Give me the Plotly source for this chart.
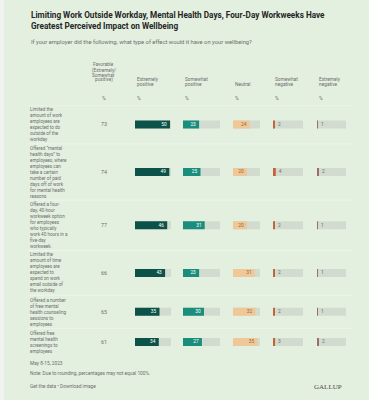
import plotly.graph_objects as go

# ---------------- data ----------------
row_labels = [
    "Limited the<br>amount of work<br>employees are<br>expected to do<br>outside of the<br>workday",
    "Offered “mental<br>health days” to<br>employees, where<br>employees can<br>take a certain<br>number of paid<br>days off of work<br>for mental health<br>reasons",
    "Offered a four-<br>day, 40-hour<br>workweek option<br>for employees<br>who typically<br>work 40 hours in a<br>five-day<br>workweek.",
    "Limited the<br>amount of time<br>employees are<br>expected to<br>spend on work<br>email outside of<br>the workday",
    "Offered a number<br>of free mental<br>health counseling<br>sessions to<br>employees",
    "Offered free<br>mental health<br>screenings to<br>employees",
]
favorable = [73, 74, 77, 66, 65, 61]
extremely_positive = [50, 49, 46, 43, 35, 34]
somewhat_positive = [23, 25, 31, 23, 30, 27]
neutral = [24, 20, 20, 31, 32, 35]
somewhat_negative = [2, 4, 2, 2, 2, 3]
extremely_negative = [1, 2, 1, 1, 1, 2]

column_headers = [
    ["Extremely", "positive"],
    ["Somewhat", "positive"],
    ["Neutral"],
    ["Somewhat", "negative"],
    ["Extremely", "negative"],
]
favorable_header = ["Favorable", "(Extremely/", "Somewhat", "positive)"]

title_text = ("<b>Limiting Work Outside Workday, Mental Health Days, Four-Day Workweeks Have"
              "<br>Greatest Perceived Impact on Wellbeing</b>")
subtitle_text = "If your employer did the following, what type of effect would it have on your wellbeing?"
date_text = "May 8-15, 2023"
note_text = "Note: Due to rounding, percentages may not equal 100%."
links_text = "Get the data • Download image"

# ---------------- styling ----------------
W, H = 369, 400
BG = "#e3efdf"
TRACK = "#d2dbcf"
TXT = "#6e6e6e"
FONT = "Roboto"
series = [extremely_positive, somewhat_positive, neutral, somewhat_negative, extremely_negative]
colors = ["#0d5249", "#1b8d7d", "#f0c898", "#c4633a", "#9b6e66"]
text_colors = ["white", "white", "#8a6a3e", TXT, TXT]
text_pos = ["inside", "inside", "inside", "outside", "outside"]
col_x0 = [135, 183, 233, 273, 317]      # px left of each column's track
col_w = [36, 37, 27, 30, 29]            # px width of each track
PX_PER_UNIT = 0.70
LINE_PX = 5.8
PAD_UNITS = 0.7
TABLE_TOP = 105


def fx(px):
    return px / W


def fy(py):
    return 1 - py / H


# row geometry derived from the number of label lines
heights = [lab.count("<br>") + 1 + PAD_UNITS for lab in row_labels]
bounds = [0]
for h in heights:
    bounds.append(bounds[-1] + h)
centers = [(bounds[i] + bounds[i + 1]) / 2 for i in range(len(heights))]
total = bounds[-1]
table_bottom = TABLE_TOP + total * LINE_PX

fig = go.Figure()
layout_axes = {}
for c, vals in enumerate(series):
    rng = col_w[c] / PX_PER_UNIT
    xa = "x" if c == 0 else f"x{c + 1}"
    key = "xaxis" if c == 0 else f"xaxis{c + 1}"
    fig.add_trace(go.Bar(
        x=[rng] * len(vals), y=centers, orientation="h", xaxis=xa, yaxis="y",
        marker=dict(color=TRACK, line=dict(width=0)), width=8 / LINE_PX,
        hoverinfo="skip", showlegend=False))
    fig.add_trace(go.Bar(
        x=vals, y=centers, orientation="h", xaxis=xa, yaxis="y",
        marker=dict(color=colors[c], line=dict(width=0)), width=8 / LINE_PX,
        text=[str(v) for v in vals], textposition=text_pos[c],
        insidetextanchor="end", constraintext="none", cliponaxis=False,
        textfont=dict(size=4.8, color=text_colors[c], family=FONT),
        showlegend=False))
    layout_axes[key] = dict(domain=[fx(col_x0[c]), fx(col_x0[c] + col_w[c])],
                            range=[0, rng], visible=False, anchor="y", fixedrange=True)

ann = []
# title & subtitle
ann.append(dict(text=title_text, x=fx(29), y=fy(8), xref="paper", yref="paper",
                xanchor="left", yanchor="top", align="left", showarrow=False,
                font=dict(family=FONT, size=8.2, color="#262626")))
ann.append(dict(text=subtitle_text, x=fx(29), y=fy(42), xref="paper", yref="paper",
                xanchor="left", yanchor="middle", align="left", showarrow=False,
                font=dict(family=FONT, size=5.8, color=TXT)))
# favorable header
for i, line in enumerate(favorable_header):
    ann.append(dict(text=line, x=fx(104), y=fy(65 + 5.0 * i), xref="paper", yref="paper",
                    xanchor="center", yanchor="middle", showarrow=False,
                    font=dict(family=FONT, size=4.7, color=TXT)))
ann.append(dict(text="%", x=fx(104), y=fy(97.5), xref="paper", yref="paper",
                xanchor="center", yanchor="middle", showarrow=False,
                font=dict(family=FONT, size=5, color=TXT)))
# column headers
for c, lines in enumerate(column_headers):
    n = len(lines)
    for i, line in enumerate(lines):
        ann.append(dict(text=line, x=fx(col_x0[c]), y=fy(84.5 - 5.4 * (n - 1 - i)),
                        xref="paper", yref="paper", xanchor="left", yanchor="middle",
                        showarrow=False, font=dict(family=FONT, size=4.8, color=TXT)))
    ann.append(dict(text="%", x=fx(col_x0[c]), y=fy(97.5), xref="paper", yref="paper",
                    xanchor="left", yanchor="middle", showarrow=False,
                    font=dict(family=FONT, size=5, color=TXT)))
# row labels and favorable values
for i, lab in enumerate(row_labels):
    ann.append(dict(text=lab, x=fx(28), y=centers[i], xref="paper", yref="y",
                    xanchor="left", yanchor="middle", align="left", showarrow=False,
                    font=dict(family=FONT, size=4.6, color=TXT)))
    ann.append(dict(text=str(favorable[i]), x=fx(104), y=centers[i], xref="paper", yref="y",
                    xanchor="center", yanchor="middle", showarrow=False,
                    font=dict(family=FONT, size=5.4, color=TXT)))
# footer
ann.append(dict(text=date_text, x=fx(28), y=fy(363), xref="paper", yref="paper",
                xanchor="left", yanchor="middle", showarrow=False,
                font=dict(family=FONT, size=4.8, color=TXT)))
ann.append(dict(text=note_text, x=fx(28), y=fy(373.5), xref="paper", yref="paper",
                xanchor="left", yanchor="middle", showarrow=False,
                font=dict(family=FONT, size=4.8, color=TXT)))
ann.append(dict(text=links_text, x=fx(28), y=fy(386.5), xref="paper", yref="paper",
                xanchor="left", yanchor="middle", showarrow=False,
                font=dict(family=FONT, size=4.8, color=TXT)))
ann.append(dict(text="GALLUP", x=fx(344), y=fy(386.5), xref="paper", yref="paper",
                xanchor="right", yanchor="middle", showarrow=False,
                font=dict(family="Liberation Serif", size=7, color="#4a4a4a")))

shapes = [dict(type="rect", xref="paper", yref="paper", x0=0, x1=fx(4), y0=0, y1=1,
               fillcolor="#f1f3f0", line=dict(width=0), layer="below")]
for b in bounds[:-1]:
    shapes.append(dict(type="line", xref="paper", yref="y", x0=fx(28), x1=fx(352),
                       y0=b, y1=b, line=dict(color="#eef6eb", width=1), layer="below"))

fig.update_layout(
    width=W, height=H, margin=dict(l=0, r=0, t=0, b=0),
    paper_bgcolor=BG, plot_bgcolor="rgba(0,0,0,0)",
    barmode="overlay", showlegend=False,
    yaxis=dict(domain=[fy(table_bottom), fy(TABLE_TOP)], range=[total, 0],
               visible=False, fixedrange=True),
    annotations=ann, shapes=shapes,
    **layout_axes,
)

fig.write_html("out.html", config={"displayModeBar": False},
               post_script="document.body.style.margin='0';document.body.style.overflow='hidden';")
